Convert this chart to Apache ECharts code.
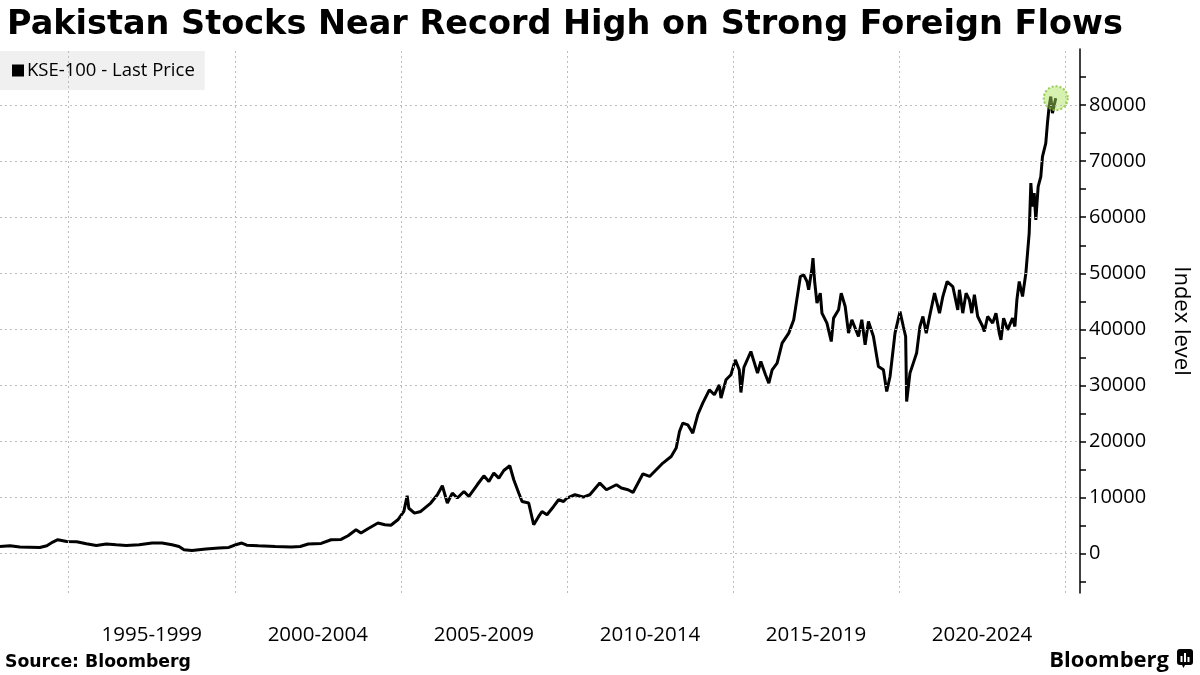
<!DOCTYPE html>
<html><head><meta charset="utf-8">
<script src="https://cdn.jsdelivr.net/npm/echarts@6/dist/echarts.min.js"></script>
<style>html,body{margin:0;padding:0;background:#fff}#chart{width:1200px;height:675px}</style>
</head><body><div id="chart"></div>
<script>
const chartTitle = 'Pakistan Stocks Near Record High on Strong Foreign Flows';
const seriesName = 'KSE-100 - Last Price';
const sourceText = 'Source: Bloomberg';
const yAxisName = 'Index level';

// decimal years
const dates = [
1992.93,1993.23,1993.53,1994.13,1994.34,1994.52,1994.67,1994.94,1995.24,1995.53,
1995.83,1996.13,1996.43,1996.73,1997.12,1997.51,1997.81,1998.11,1998.32,1998.47,
1998.71,1999.13,1999.52,1999.82,2000.03,2000.21,2000.36,2000.71,2001.22,2001.70,
2001.97,2002.21,2002.60,2002.90,2003.20,2003.41,2003.65,2003.80,2004.01,2004.31,
2004.52,2004.70,2004.91,2005.09,2005.19,2005.24,2005.41,2005.60,2005.90,2006.10,
2006.25,2006.40,2006.55,2006.70,2006.90,2007.05,2007.30,2007.50,2007.65,2007.80,
2007.95,2008.10,2008.28,2008.40,2008.55,2008.65,2008.85,2009.00,2009.15,2009.25,
2009.40,2009.60,2009.75,2009.90,2010.00,2010.24,2010.49,2010.69,2010.99,2011.19,
2011.49,2011.64,2011.84,2011.99,2012.29,2012.49,2012.89,2013.14,2013.29,2013.39,
2013.49,2013.64,2013.79,2013.94,2014.09,2014.29,2014.44,2014.59,2014.64,2014.79,
2014.94,2015.07,2015.19,2015.24,2015.33,2015.54,2015.74,2015.84,2015.98,2016.08,
2016.18,2016.33,2016.48,2016.68,2016.83,2016.93,2017.03,2017.13,2017.23,2017.28,
2017.38,2017.41,2017.46,2017.53,2017.63,2017.68,2017.83,2017.96,2018.03,2018.18,
2018.26,2018.38,2018.48,2018.58,2018.78,2018.88,2018.98,2019.08,2019.23,2019.38,
2019.53,2019.63,2019.73,2019.88,2020.03,2020.13,2020.20,2020.23,2020.33,2020.48,
2020.53,2020.63,2020.72,2020.82,2020.92,2021.07,2021.22,2021.32,2021.45,2021.62,
2021.77,2021.82,2021.92,2022.02,2022.12,2022.19,2022.27,2022.37,2022.52,2022.57,
2022.67,2022.82,2022.92,2023.02,2023.07,2023.15,2023.27,2023.42,2023.49,2023.55,
2023.62,2023.72,2023.82,2023.92,2023.97,2024.02,2024.07,2024.12,2024.19,2024.27,
2024.32,2024.42,2024.47,2024.52,2024.57,2024.62,2024.72
];
const prices = [
1300,1430,1190,1120,1430,2090,2500,2190,2140,1780,
1480,1730,1600,1480,1600,1910,1910,1600,1300,710,
590,840,1020,1120,1600,1910,1520,1430,1300,1190,
1300,1730,1840,2500,2550,3210,4280,3690,4460,5470,
5170,5080,6060,7540,10340,8110,7250,7540,9040,10520,
12120,9040,10820,9930,11100,10210,12300,13900,12890,14380,
13490,14850,15690,13190,10820,9320,9040,5170,6650,7540,
6950,8430,9630,9320,9930,10520,10110,10520,12600,11410,
12300,11710,11410,10930,14260,13780,16170,17340,18840,21800,
23300,22990,21510,24780,26860,29230,28340,30120,27750,31020,
31910,34580,32800,28750,33240,36060,32210,34280,31910,30430,
32800,33990,37560,39340,41710,45580,49430,49730,48540,47060,
50930,52710,48540,44690,46470,42900,41120,37840,42010,43490,
46470,44080,39340,41710,38730,41710,37250,41410,38730,33390,
32800,28930,31600,39340,43190,40520,38730,27150,32210,34880,
35780,40520,42300,39340,42300,46470,42900,45860,48540,47650,
43490,47060,42900,46470,45280,42900,46170,42300,40520,39630,
42300,41120,42900,39340,38150,42010,39930,42010,40520,45280,
48540,45860,50030,57160,66080,61910,64300,59540,65470,67250,
70820,73210,76770,79730,81520,78560,81230
];

const xGridYears = [1995, 2000, 2005, 2010, 2015, 2020, 2025];
const xLabelPositions = [1997.5, 2002.5, 2007.5, 2012.5, 2017.5, 2022.5];
const xLabels = ['1995-1999', '2000-2004', '2005-2009', '2010-2014', '2015-2019', '2020-2024'];
const yLabelValues = [0, 10000, 20000, 30000, 40000, 50000, 60000, 70000, 80000];
const yTickValues = [-5000, 0, 5000, 10000, 15000, 20000, 25000, 30000, 35000, 40000, 45000, 50000, 55000, 60000, 65000, 70000, 75000, 80000, 85000];

const lineData = dates.map((d, i) => [d, prices[i]]);
const lastPoint = lineData[lineData.length - 1];

const chart = echarts.init(document.getElementById('chart'), null, {renderer: 'canvas'});
const gridLineStyle = {color: '#bdbdbd', type: [2, 3], width: 1};

chart.setOption({
  backgroundColor: '#ffffff',
  animation: false,
  title: {
    text: chartTitle, left: 2, top: 3,
    textStyle: {fontFamily: 'DejaVu Sans', fontWeight: 'bold', fontSize: 33.5, color: '#000'}
  },
  legend: {
    left: 0, top: 51, data: [{name: seriesName, icon: 'rect'}],
    backgroundColor: '#f0f0f0', padding: [10, 10, 10, 12], itemWidth: 12, itemHeight: 12, itemGap: 4,
    textStyle: {fontFamily: 'Open Sans', fontSize: 18.5, color: '#000', padding: [0, 0, 0, -2]}
  },
  grid: {left: 0, right: 114, top: 49, bottom: 82, containLabel: false},
  xAxis: {
    type: 'value', min: 1992.93, max: 2025.45,
    axisLine: {show: false}, axisTick: {show: false}, splitLine: {show: false},
    axisLabel: {
      customValues: xLabelPositions, margin: 32,
      formatter: v => { const i = xLabelPositions.findIndex(p => Math.abs(p - v) < 0.01); return i >= 0 ? xLabels[i] : ''; },
      fontFamily: 'Open Sans', fontSize: 20.5, color: '#000'
    }
  },
  yAxis: {
    type: 'value', position: 'right', min: -7000, max: 90000,
    name: yAxisName, nameLocation: 'middle', nameRotate: -90, nameGap: 90,
    nameTextStyle: {fontFamily: 'Open Sans', fontSize: 22, color: '#000'},
    axisLine: {show: true, lineStyle: {color: '#000', width: 1.5}},
    axisTick: {show: true, customValues: yTickValues, length: 6, lineStyle: {color: '#000', width: 1.5}},
    splitLine: {show: false},
    axisLabel: {customValues: yLabelValues, margin: 9, formatter: v => String(v), fontFamily: 'Open Sans', fontSize: 20, color: '#000'}
  },
  series: [
    {
      name: 'gridlines', type: 'line', data: [], z: 1, silent: true,
      markLine: {
        silent: true, symbol: ['none', 'none'], label: {show: false}, lineStyle: gridLineStyle, animation: false,
        data: xGridYears.map(y => ({xAxis: y})).concat(yLabelValues.map(v => ({yAxis: v})))
      }
    },
    {
      name: seriesName, type: 'line', data: lineData, showSymbol: false, z: 3,
      lineStyle: {color: '#000', width: 3}, itemStyle: {color: '#000'}
    },
    {
      name: 'last', type: 'scatter', data: [lastPoint], symbolSize: 24, z: 4, silent: true,
      itemStyle: {color: 'rgba(170,225,90,0.6)', borderColor: '#86c232', borderWidth: 2, borderType: [2, 2]}
    }
  ],
  graphic: [
    {type: 'text', left: 5, bottom: 4, style: {text: sourceText, font: 'bold 17.3px "DejaVu Sans"', fill: '#000'}},
    {type: 'text', right: 31, bottom: 3, style: {text: 'Bloomberg', font: 'bold 22px "Open Sans"', fill: '#000'}},
    {type: 'group', right: 7, bottom: 7, children: [
      {type: 'rect', shape: {x: 0, y: 0, width: 16, height: 16, r: 3}, style: {fill: '#000'}},
      {type: 'polygon', shape: {points: [[5,16],[8,16],[6.5,19]]}, style: {fill: '#000'}},
      {type: 'rect', shape: {x: 3.5, y: 7, width: 2, height: 6}, style: {fill: '#fff'}},
      {type: 'rect', shape: {x: 7, y: 4, width: 2, height: 9}, style: {fill: '#fff'}},
      {type: 'rect', shape: {x: 10.5, y: 8, width: 2, height: 5}, style: {fill: '#fff'}}
    ]}
  ]
});
</script></body></html>
